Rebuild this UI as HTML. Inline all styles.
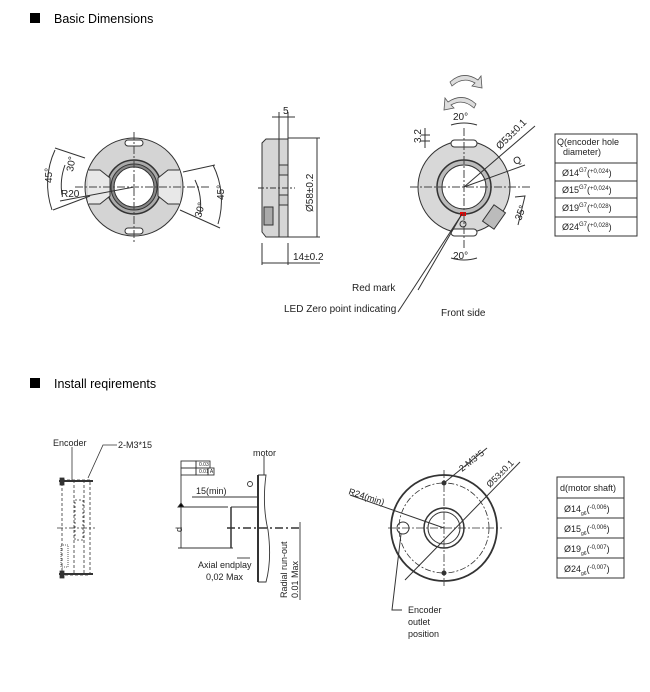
<!DOCTYPE html>
<html><head><meta charset="utf-8"><style>
html,body{margin:0;padding:0;background:#fff;}
svg{display:block;font-family:"Liberation Sans",sans-serif;}
</style></head><body>
<svg width="650" height="692" viewBox="0 0 650 692" xmlns="http://www.w3.org/2000/svg">
<g fill="#000" font-size="12.5">
<rect x="30" y="13" width="10" height="10"/>
<text x="54" y="23">Basic Dimensions</text>
<rect x="30" y="378" width="10" height="10"/>
<text x="54" y="388">Install reqirements</text>
</g>

<!-- Top-left encoder -->
<g stroke="#333" fill="none" stroke-width="1">
<circle cx="134" cy="187" r="49" fill="#d4d4d4"/>
<circle cx="134" cy="187" r="27" fill="#aaa" stroke-width="1.5"/>
<circle cx="134" cy="187" r="23" fill="#888"/>
<circle cx="134" cy="187" r="20" fill="#fff"/>
<path d="M88 170 L100 170 L110 178 L110 196 L100 204 L88 204" fill="#e8e8e8"/>
<path d="M180 170 L168 170 L158 178 L158 196 L168 204 L180 204" fill="#e8e8e8"/>
<rect x="125" y="140" width="18" height="6" rx="3" fill="#fff"/>
<rect x="125" y="228" width="18" height="6" rx="3" fill="#fff"/>
<g stroke-dasharray="8,2,2,2" stroke="#444">
<line x1="134" y1="132" x2="134" y2="242"/>
<line x1="75" y1="187" x2="210" y2="187"/>
</g>
<path d="M55 150 A80 80 0 0 0 52 210"/><path d="M65 165 A60 60 0 0 0 62 195"/>
<line x1="55" y1="148" x2="85" y2="158"/><line x1="53" y1="210" x2="90" y2="196"/>
<path d="M213 165 A80 80 0 0 1 218 224"/><path d="M195 180 A60 60 0 0 1 200 214"/>
<line x1="183" y1="172" x2="215" y2="165"/><line x1="180" y1="210" x2="220" y2="228"/>
<line x1="60" y1="201" x2="134" y2="187"/>
</g>
<g font-size="10" fill="#222">
<text transform="translate(52,183) rotate(-90)">45°</text>
<text transform="translate(73,172) rotate(-80)">30°</text>
<text x="61" y="197">R20</text>
<text transform="translate(201,218) rotate(-75)">30°</text>
<text transform="translate(224,200) rotate(-90)">45°</text>
</g>

<!-- Side view -->
<g stroke="#333" fill="none">
<path d="M266 139 L288 139 L288 237 L266 237 L262 232 L262 143 Z" fill="#d6d6d6"/>
<line x1="279" y1="139" x2="279" y2="237"/>
<rect x="279" y="165" width="9" height="10" fill="#ccc"/>
<rect x="279" y="195" width="9" height="10" fill="#ccc"/>
<rect x="264" y="207" width="9" height="18" fill="#aaa"/>
<line x1="279" y1="112" x2="279" y2="139"/><line x1="288" y1="112" x2="288" y2="139"/>
<line x1="272" y1="117" x2="295" y2="117"/>
<line x1="288" y1="138" x2="320" y2="138"/><line x1="288" y1="237" x2="320" y2="237"/>
<line x1="317" y1="138" x2="317" y2="237"/>
<line x1="262" y1="243" x2="262" y2="265"/><line x1="288" y1="243" x2="288" y2="265"/>
<line x1="262" y1="263" x2="320" y2="263"/>
<line x1="258" y1="188" x2="295" y2="188" stroke-dasharray="6,2,2,2"/>
</g>
<g font-size="10" fill="#222">
<text x="283" y="114">5</text>
<text transform="translate(313,212) rotate(-90)">Ø58±0.2</text>
<text x="293" y="260">14±0.2</text>
</g>

<!-- Front view -->
<g stroke="#333" fill="none">
<path d="M450 82 Q463 70 478 80 L481 76 L482 88 L472 86 L475 83 Q463 76 452 86 Z" fill="#ddd" stroke="#555" stroke-width="0.8"/>
<path d="M476 104 Q463 92 448 102 L445 98 L444 110 L454 108 L451 105 Q463 98 474 108 Z" fill="#ddd" stroke="#555" stroke-width="0.8"/>
<circle cx="464" cy="187" r="46" fill="#d8d8d8"/>
<circle cx="464" cy="187" r="27" fill="#bbb" stroke-width="1.5"/>
<circle cx="464" cy="187" r="22" fill="#fff"/>
<rect x="451" y="140" width="26" height="7" rx="3.5" fill="#fff"/>
<rect x="451" y="229" width="26" height="7" rx="3.5" fill="#fff"/>
<circle cx="463" cy="224" r="3"/>
<rect x="487" y="207" width="14" height="20" fill="#bbb" transform="rotate(35 494 217)"/>
<rect x="460" y="212" width="6" height="4" fill="#e00" stroke="none"/>
<g stroke-dasharray="8,2,2,2" stroke="#444">
<line x1="464" y1="128" x2="464" y2="250"/>
<line x1="410" y1="187" x2="532" y2="187"/>
</g>
<line x1="464" y1="187" x2="535" y2="126"/>
<line x1="464" y1="187" x2="525" y2="165"/>
<line x1="418" y1="290" x2="462" y2="214"/>
<line x1="398" y1="312" x2="462" y2="214"/>
<path d="M451 125 Q464 121 477 125"/>
<path d="M451 258 Q464 262 477 258"/>
<line x1="421" y1="135" x2="430" y2="135"/><line x1="421" y1="141" x2="430" y2="141"/>
<line x1="425" y1="128" x2="425" y2="148"/>
<path d="M515 197 L525 196 L518 225"/>
</g>
<g font-size="10" fill="#222">
<text x="453" y="120">20°</text>
<text x="453" y="259">20°</text>
<text transform="translate(421,143) rotate(-90)">3.2</text>
<text transform="translate(500,150) rotate(-45)">Ø53±0.1</text>
<text transform="translate(515,165) rotate(-25)">Q</text>
<text transform="translate(521,221) rotate(-70)">35°</text>
<text x="352" y="291">Red mark</text>
<text x="284" y="312">LED Zero point indicating</text>
<text x="441" y="316">Front side</text>
</g>
<!-- Q table -->
<g stroke="#333" fill="none">
<rect x="555" y="134" width="82" height="102"/>
<line x1="555" y1="163" x2="637" y2="163"/>
<line x1="555" y1="181" x2="637" y2="181"/>
<line x1="555" y1="198" x2="637" y2="198"/>
<line x1="555" y1="217" x2="637" y2="217"/>
</g>
<g font-size="9" fill="#222">
<text x="557" y="145">Q(encoder hole</text>
<text x="563" y="155">diameter)</text>
<text x="562" y="176">Ø14<tspan font-size="6" dy="-4">G7</tspan><tspan dy="4">(</tspan><tspan font-size="6" dy="-3">+0,024</tspan><tspan dy="3">)</tspan></text>
<text x="562" y="193">Ø15<tspan font-size="6" dy="-4">G7</tspan><tspan dy="4">(</tspan><tspan font-size="6" dy="-3">+0,024</tspan><tspan dy="3">)</tspan></text>
<text x="562" y="211">Ø19<tspan font-size="6" dy="-4">G7</tspan><tspan dy="4">(</tspan><tspan font-size="6" dy="-3">+0,028</tspan><tspan dy="3">)</tspan></text>
<text x="562" y="230">Ø24<tspan font-size="6" dy="-4">G7</tspan><tspan dy="4">(</tspan><tspan font-size="6" dy="-3">+0,028</tspan><tspan dy="3">)</tspan></text>
</g>

<!-- Bottom-left encoder side -->
<g stroke="#333" fill="none" stroke-width="0.8">
<rect x="62" y="480" width="28" height="95" stroke-dasharray="3,2"/>
<line x1="74" y1="480" x2="74" y2="575" stroke-dasharray="3,2"/>
<line x1="84" y1="480" x2="84" y2="575" stroke-dasharray="3,2"/>
<line x1="59" y1="481" x2="93" y2="481" stroke-width="2"/>
<line x1="59" y1="574" x2="93" y2="574" stroke-width="2"/>
<rect x="60" y="478" width="4" height="7" fill="#333"/><rect x="60" y="571" width="4" height="7" fill="#333"/>
<rect x="61" y="545" width="7" height="22" stroke-dasharray="1,1"/>
<rect x="75" y="500" width="8" height="40" stroke-dasharray="2,2"/>
<line x1="57" y1="528" x2="95" y2="528" stroke-dasharray="6,2,2,2"/>
<line x1="72" y1="480" x2="72" y2="447"/>
<polyline points="88,478 103,445 117,445"/>
</g>
<g font-size="9" fill="#222">
<text x="53" y="446">Encoder</text>
<text x="118" y="448">2-M3*15</text>
</g>

<!-- Motor view -->
<g stroke="#333" fill="none" stroke-width="0.9">
<rect x="181" y="461" width="15" height="7"/><rect x="196" y="461" width="14" height="7"/>
<rect x="181" y="468" width="15" height="7"/><rect x="196" y="468" width="12" height="7"/><rect x="208" y="468" width="6" height="7"/>
<polyline points="181,475 181,507"/>
<line x1="182" y1="507" x2="228" y2="507"/>
<line x1="181" y1="507" x2="181" y2="548"/>
<line x1="178" y1="548" x2="233" y2="548"/>
<path d="M178 507 L181 503 L184 507 Z" fill="#000"/>
<line x1="192" y1="497" x2="258" y2="497"/>
<line x1="231" y1="507" x2="258" y2="507"/>
<line x1="231" y1="507" x2="231" y2="548" stroke-width="1.5"/>
<line x1="258" y1="475" x2="258" y2="582" stroke-width="2"/>
<path d="M258 475 L266 475 Q262 505 268 530 Q272 560 266 582 L258 582"/>
<line x1="264" y1="475" x2="264" y2="456"/>
<circle cx="250" cy="484" r="2.5"/>
<line x1="227" y1="528" x2="300" y2="528" stroke-width="1.5" stroke-dasharray="8,3,2,3"/>
<line x1="300" y1="522" x2="300" y2="600"/>
<line x1="237" y1="558" x2="250" y2="558"/>
</g>
<g font-size="9" fill="#222">
<text x="253" y="456">motor</text>
<text x="196" y="494">15(min)</text>
<text transform="translate(182,532) rotate(-90)">d</text>
<text x="198" y="568">Axial endplay</text>
<text x="206" y="580">0,02 Max</text>
<text transform="translate(287,598) rotate(-90)">Radial run-out</text>
<text transform="translate(298,598) rotate(-90)">0.01 Max</text>
<text x="199" y="466" font-size="5">0.03</text>
<text x="199" y="473" font-size="5">0.01 A</text>
</g>

<!-- Bottom-right circle -->
<g stroke="#333" fill="none">
<circle cx="444" cy="528" r="53" stroke-width="1.8"/>
<circle cx="444" cy="528" r="45" stroke-dasharray="6,2,2,2" stroke-width="0.8"/>
<circle cx="444" cy="528" r="20" stroke-width="1.5"/>
<circle cx="444" cy="528" r="16"/>
<circle cx="403" cy="528" r="6"/>
<circle cx="444" cy="483" r="2" fill="#333"/><circle cx="444" cy="573" r="2" fill="#333"/>
<g stroke-dasharray="8,2,2,2" stroke-width="0.8">
<line x1="444" y1="470" x2="444" y2="586"/>
<line x1="388" y1="528" x2="502" y2="528"/>
</g>
<line x1="444" y1="483" x2="487" y2="448"/>
<line x1="405" y1="580" x2="520" y2="462"/>
<line x1="350" y1="495" x2="444" y2="528"/>
<polyline points="401,534 392,610 402,610"/>
</g>
<g font-size="9" fill="#222">
<text transform="translate(462,472) rotate(-38)">2-M3*5</text>
<text transform="translate(490,488) rotate(-45)">Ø53±0.1</text>
<text transform="translate(348,494) rotate(18)">R24(min)</text>
<text x="408" y="613">Encoder</text>
<text x="408" y="625">outlet</text>
<text x="408" y="637">position</text>
</g>
<!-- d table -->
<g stroke="#333" fill="none">
<rect x="557" y="477" width="67" height="101"/>
<line x1="557" y1="498" x2="624" y2="498"/>
<line x1="557" y1="518" x2="624" y2="518"/>
<line x1="557" y1="538" x2="624" y2="538"/>
<line x1="557" y1="558" x2="624" y2="558"/>
</g>
<g font-size="9" fill="#222">
<text x="560" y="491">d(motor shaft)</text>
<text x="564" y="512">Ø14<tspan font-size="5" dy="3">g6</tspan><tspan dy="-3">(</tspan><tspan font-size="6" dy="-3">-0,006</tspan><tspan dy="3">)</tspan></text>
<text x="564" y="532">Ø15<tspan font-size="5" dy="3">g6</tspan><tspan dy="-3">(</tspan><tspan font-size="6" dy="-3">-0,006</tspan><tspan dy="3">)</tspan></text>
<text x="564" y="552">Ø19<tspan font-size="5" dy="3">g6</tspan><tspan dy="-3">(</tspan><tspan font-size="6" dy="-3">-0,007</tspan><tspan dy="3">)</tspan></text>
<text x="564" y="572">Ø24<tspan font-size="5" dy="3">g6</tspan><tspan dy="-3">(</tspan><tspan font-size="6" dy="-3">-0,007</tspan><tspan dy="3">)</tspan></text>
</g>
</svg>
</body></html>
